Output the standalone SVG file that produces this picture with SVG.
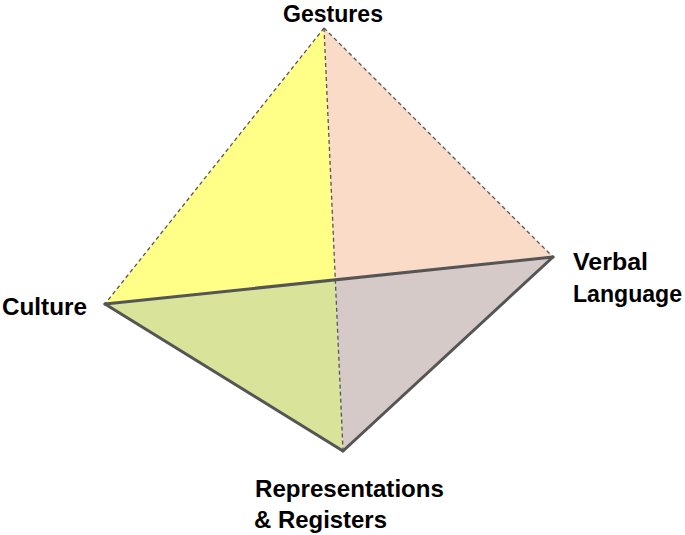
<svg xmlns="http://www.w3.org/2000/svg" width="685" height="535" viewBox="0 0 685 535">
<style>
.lbl{font-family:"Liberation Sans",Arial,sans-serif;font-weight:bold;font-size:24px;fill:#000}
.dash{stroke:#555;stroke-width:1.3;stroke-dasharray:4 3;fill:none}
.solid{stroke:#555;stroke-width:3;fill:none;stroke-linecap:round}
</style>
<rect width="685" height="535" fill="#fff"/>
<g id="faces">
<polygon id="face-tl" points="324,28 105,304 335,281" fill="#FFFF88"/>
<polygon id="face-tr" points="324,28 553,257 335,281" fill="#FADBC8"/>
<polygon id="face-bl" points="105,304 343,451 335,281" fill="#D9E49A"/>
<polygon id="face-br" points="553,257 343,451 335,281" fill="#D6CAC8"/>
</g>
<g id="connectors">
<line class="dash" x1="324" y1="28" x2="105" y2="304"/>
<line class="dash" x1="324" y1="28" x2="553" y2="257"/>
<line class="dash" x1="324" y1="28" x2="343" y2="451"/>
<line class="solid" x1="105" y1="304" x2="553" y2="257"/>
<line class="solid" x1="105" y1="304" x2="343" y2="451"/>
<line class="solid" x1="553" y1="257" x2="343" y2="451"/>
</g>
<g id="node-gestures"><text class="lbl" x="283" y="22" textLength="100" lengthAdjust="spacingAndGlyphs">Gestures</text></g>
<g id="node-culture"><text class="lbl" x="2" y="315" textLength="85" lengthAdjust="spacingAndGlyphs">Culture</text></g>
<g id="node-verbal"><text class="lbl" x="573" y="270" textLength="75" lengthAdjust="spacingAndGlyphs">Verbal</text><text class="lbl" x="573" y="302" textLength="109" lengthAdjust="spacingAndGlyphs">Language</text></g>
<g id="node-repr"><text class="lbl" x="255" y="497" textLength="189" lengthAdjust="spacingAndGlyphs">Representations</text><text class="lbl" x="254" y="528" textLength="133" lengthAdjust="spacingAndGlyphs">&amp; Registers</text></g>
</svg>
